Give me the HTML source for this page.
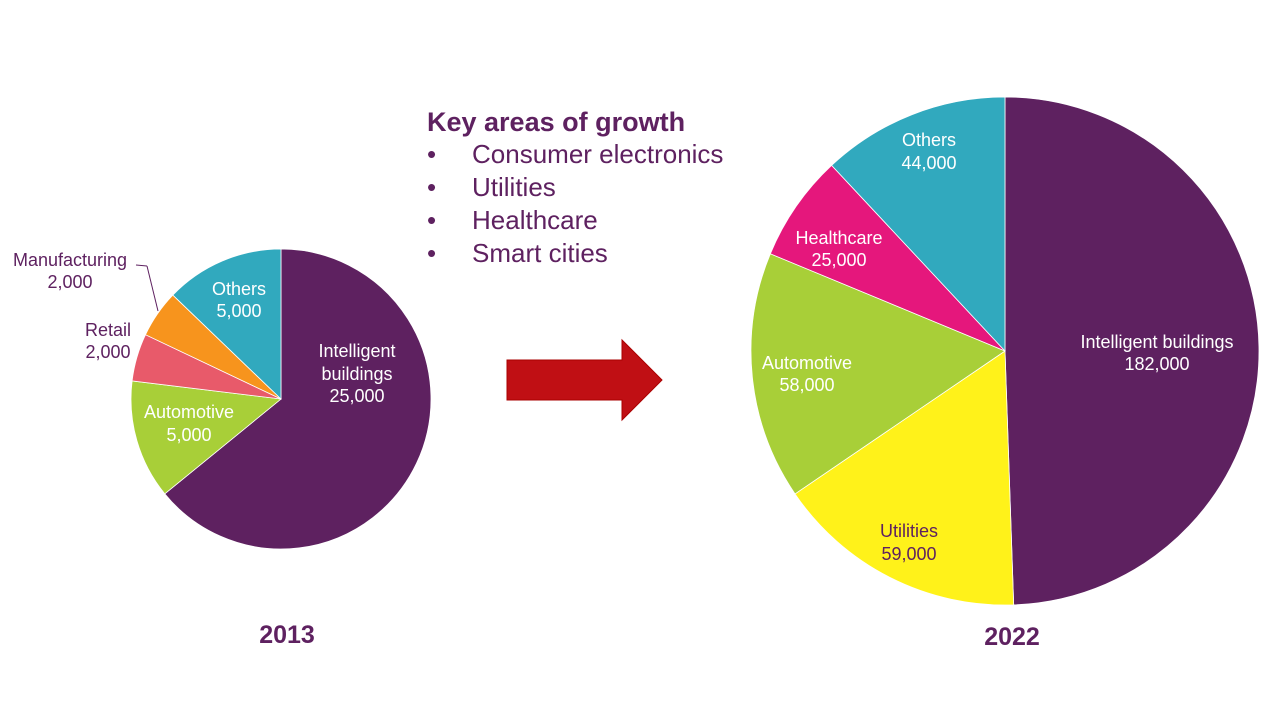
<!DOCTYPE html>
<html><head><meta charset="utf-8"><style>
body{margin:0;width:1280px;height:720px;background:#fff;font-family:"Liberation Sans",sans-serif;overflow:hidden;position:relative}
svg{position:absolute;left:0;top:0}
.t{font-family:"Liberation Sans",sans-serif}
</style></head><body>
<svg id="chart" width="1280" height="720">
<g id="p1"></g>
<g id="p2"></g>
<polygon points="507,360 622,360 622,340 662,380 622,420 622,400 507,400" fill="#c00f14" stroke="#a00" stroke-width="1"/>
<line x1="136" y1="265" x2="147" y2="266" stroke="#5e2160" stroke-width="1"/>
<line x1="147" y1="266" x2="158" y2="311" stroke="#5e2160" stroke-width="1"/>
<g class="t" font-size="18">
<text x="70" y="266" text-anchor="middle" fill="#5e2160">Manufacturing</text>
<text x="70" y="288" text-anchor="middle" fill="#5e2160">2,000</text>
<text x="108" y="336" text-anchor="middle" fill="#5e2160">Retail</text>
<text x="108" y="358" text-anchor="middle" fill="#5e2160">2,000</text>
<text x="239" y="295" text-anchor="middle" fill="#fff">Others</text>
<text x="239" y="317" text-anchor="middle" fill="#fff">5,000</text>
<text x="357" y="357" text-anchor="middle" fill="#fff">Intelligent</text>
<text x="357" y="380" text-anchor="middle" fill="#fff">buildings</text>
<text x="357" y="402" text-anchor="middle" fill="#fff">25,000</text>
<text x="189" y="418" text-anchor="middle" fill="#fff">Automotive</text>
<text x="189" y="441" text-anchor="middle" fill="#fff">5,000</text>
<text x="929" y="146" text-anchor="middle" fill="#fff">Others</text>
<text x="929" y="169" text-anchor="middle" fill="#fff">44,000</text>
<text x="839" y="244" text-anchor="middle" fill="#fff">Healthcare</text>
<text x="839" y="266" text-anchor="middle" fill="#fff">25,000</text>
<text x="807" y="369" text-anchor="middle" fill="#fff">Automotive</text>
<text x="807" y="391" text-anchor="middle" fill="#fff">58,000</text>
<text x="909" y="537" text-anchor="middle" fill="#5e2160">Utilities</text>
<text x="909" y="560" text-anchor="middle" fill="#5e2160">59,000</text>
<text x="1157" y="348" text-anchor="middle" fill="#fff">Intelligent buildings</text>
<text x="1157" y="370" text-anchor="middle" fill="#fff">182,000</text>
</g>
<text class="t" x="287" y="643" text-anchor="middle" font-size="25" font-weight="bold" fill="#5e2160">2013</text>
<text class="t" x="1012" y="645" text-anchor="middle" font-size="25" font-weight="bold" fill="#5e2160">2022</text>
<g class="t" fill="#5e2160">
<text x="427" y="131" font-size="27" font-weight="bold">Key areas of growth</text>
<text x="427" y="163" font-size="26">•</text><text x="472" y="163" font-size="26">Consumer electronics</text>
<text x="427" y="196" font-size="26">•</text><text x="472" y="196" font-size="26">Utilities</text>
<text x="427" y="229" font-size="26">•</text><text x="472" y="229" font-size="26">Healthcare</text>
<text x="427" y="262" font-size="26">•</text><text x="472" y="262" font-size="26">Smart cities</text>
</g>
</svg>
<script>
const cats2013 = ["Intelligent buildings","Automotive","Retail","Manufacturing","Others"];
const vals2013 = [25000,5000,2000,2000,5000];
const cols2013 = ["#5e2160","#a8cf38","#e85a6a","#f7941d","#31a9be"];
const cats2022 = ["Intelligent buildings","Utilities","Automotive","Healthcare","Others"];
const vals2022 = [182000,59000,58000,25000,44000];
const cols2022 = ["#5e2160","#fff21a","#a8cf38","#e5177c","#31a9be"];
const NS="http://www.w3.org/2000/svg";
function pie(g,cats,vals,cols,cx,cy,r){
  const tot=vals.reduce((a,b)=>a+b,0);let a0=0;
  vals.forEach((v,i)=>{
    const a1=a0+v/tot*2*Math.PI;
    const x0=cx+r*Math.sin(a0),y0=cy-r*Math.cos(a0),x1=cx+r*Math.sin(a1),y1=cy-r*Math.cos(a1);
    const p=document.createElementNS(NS,"path");
    p.setAttribute("d",`M${cx},${cy}L${x0},${y0}A${r},${r} 0 ${a1-a0>Math.PI?1:0} 1 ${x1},${y1}Z`);
    p.setAttribute("fill",cols[i]);p.setAttribute("stroke","#fff");p.setAttribute("stroke-width","0.8");
    
    
    g.appendChild(p);a0=a1;
  });
}
pie(document.getElementById("p1"),cats2013,vals2013,cols2013,281,399,150);
pie(document.getElementById("p2"),cats2022,vals2022,cols2022,1005,351,254);
</script>
</body></html>
